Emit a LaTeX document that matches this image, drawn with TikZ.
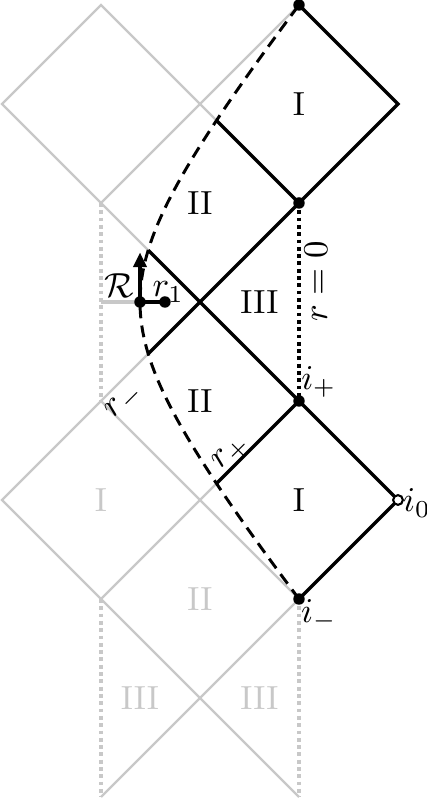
\documentclass[tikz,border=0pt]{standalone}
\usetikzlibrary{arrows.meta,intersections}
\definecolor{lg}{RGB}{200,200,200}
\begin{document}
\begin{tikzpicture}[
  font=\fontsize{9.6}{11}\selectfont,
  grayline/.style={draw=lg, line width=0.7pt},
  blackline/.style={draw=black, line width=0.95pt},
  dotline/.style={line width=1.2pt, dash pattern=on 1.1pt off 1pt},
  dashcurve/.style={draw=black, line width=0.85pt, dash pattern=on 3.4pt off 2.1pt},
  dot/.style={circle, fill=black, inner sep=0pt, minimum size=3.3pt},
  odot/.style={circle, draw=black, fill=white, line width=0.6pt, inner sep=0pt, minimum size=2.8pt},
  lbl/.style={inner sep=0pt},
  glbl/.style={text=lg, inner sep=0pt}
]
\useasboundingbox (-0.0202,-0.0303) rectangle (4.2929,8.0505);
% grid coordinates
\coordinate (T1) at (1,8); \coordinate (T3) at (3,8);
\coordinate (L7) at (0,7); \coordinate (M7) at (2,7); \coordinate (R7) at (4,7);
\coordinate (A6) at (1,6); \coordinate (B6) at (3,6);
\coordinate (C5) at (2,5); \coordinate (G5) at (1,5);
\coordinate (A4) at (1,4); \coordinate (B4) at (3,4);
\coordinate (L3) at (0,3); \coordinate (M3) at (2,3); \coordinate (R3) at (4,3);
\coordinate (A2) at (1,2); \coordinate (B2) at (3,2);
\coordinate (A0) at (1,0); \coordinate (B0) at (3,0);
% gray background lines
\draw[grayline] (T1) -- (M7) -- (A6) -- (L7) -- cycle;
\draw[grayline] (M7) -- (T3);
\draw[grayline] (M7) -- (B6);
\draw[grayline] (A6) -- (B4);
\draw[grayline] (B6) -- (A4);
\draw[grayline] (A4) -- (M3) -- (A2) -- (L3) -- cycle;
\draw[grayline] (B4) -- (M3) -- (B2);
\draw[grayline] (A2) -- (B0);
\draw[grayline] (B2) -- (A0);
\draw[grayline, dotline] (A6) -- (A4);
\draw[grayline, dotline] (A2) -- (A0);
\draw[grayline, dotline] (B2) -- (B0);
% dashed curve
\draw[dashcurve, name path=crv] plot[domain=-3:3, samples=121, variable=\s]
  ({1.394+0.8154*(sqrt(1.69+\s*\s)-1.3)}, {5+\s});
\path[name path=la] (B6) -- (M7);
\path[name path=lb] (A6) -- (B4);
\path[name path=lc] (B6) -- (A4);
\path[name path=ld] (B4) -- (M3);
\path[name intersections={of=crv and la, by=Pa}];
\path[name intersections={of=crv and lb, by=Pb}];
\path[name intersections={of=crv and lc, by=Pc}];
\path[name intersections={of=crv and ld, by=Pd}];
% black lines
\draw[blackline, line join=miter] (Pa) -- (B6) -- (R7) -- (T3);
\draw[blackline] (Pb) -- (B4);
\draw[blackline] (B6) -- (Pc);
\draw[blackline, line join=miter] (Pd) -- (B4) -- (R3) -- (B2);
\draw[blackline, dotline] (B6) -- (B4);
% R and r1
\coordinate (Rp) at (1.394,5);
\coordinate (Rq) at (1.646,5);
\coordinate (Rt) at (1.394,5.50);
\draw[draw=lg, line width=0.9pt] (G5) -- (Rp);
\draw[line width=1pt] (Rp) -- (Rq);
\draw[line width=0.9pt, -{Triangle[length=4.2pt,width=3.8pt]}] (Rp) -- (Rt);
% dots
\node[dot] (dT) at (T3) {};
\node[dot] (dB6) at (B6) {};
\node[dot] (dB4) at (B4) {};
\node[dot] (dB2) at (B2) {};
\node[dot] (dR) at (Rp) {};
\node[dot] (dQ) at (Rq) {};
\node[odot] (dI0) at (R3) {};
% labels
\node[lbl] (lI1) at (3,7) {I};
\node[lbl] (lI2) at (3,3) {I};
\node[glbl] (lI3) at (1,3) {I};
\node[lbl] (lII1) at (2,6) {II};
\node[lbl] (lII2) at (2,4) {II};
\node[glbl] (lII3) at (2,2) {II};
\node[lbl] (lIII1) at (2.6,5) {III};
\node[glbl] (lIII2) at (1.394,1) {III};
\node[glbl] (lIII3) at (2.6,1) {III};
\node[lbl, rotate=90] (lr0) at (3.17,5.21) {$r=0$};
\node[lbl] (lip) at (3.2,4.19) {$i_+$};
\node[lbl] (lim) at (3.2,1.84) {$i_-$};
\node[lbl] (li0) at (4.19,2.97) {$i_0$};
\node[lbl] (lR) at (1.18,5.17) {$\mathcal{R}$};
\node[lbl] (lr1) at (1.68,5.1) {$r_1$};
\node[lbl, rotate=45] (lrm) at (1.24,3.99) {$r_-$};
\node[lbl, rotate=45] (lrp) at (2.32,3.47) {$r_+$};
\end{tikzpicture}
\end{document}
